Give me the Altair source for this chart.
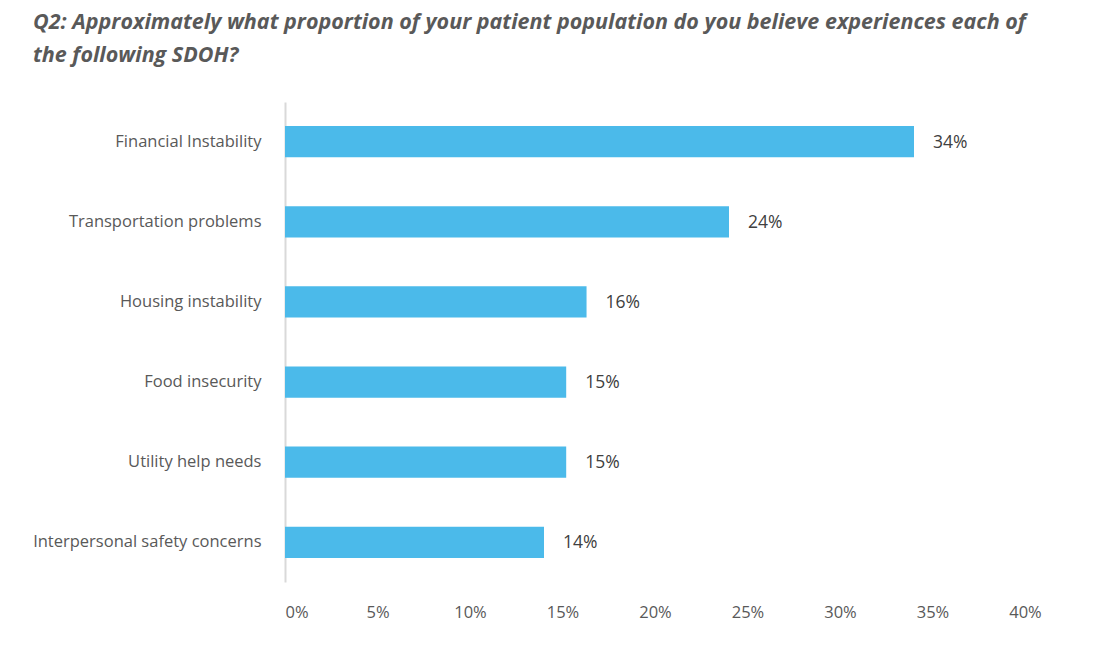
import altair as alt
import pandas as pd

categories = ["Financial Instability", "Transportation problems", "Housing instability",
              "Food insecurity", "Utility help needs", "Interpersonal safety concerns"]
values = [0.34, 0.24, 0.163, 0.152, 0.152, 0.14]
labels = ["34%", "24%", "16%", "15%", "15%", "14%"]

df = pd.DataFrame({"cat": categories, "val": values, "lab": labels})

FONT = "Open Sans"
GRAY = "#595959"

base = alt.Chart(df).encode(
    y=alt.Y("cat:N", sort=categories, title=None,
            scale=alt.Scale(paddingInner=0.61, paddingOuter=0.3),
            axis=alt.Axis(labelFont=FONT, labelFontSize=16.5, labelColor=GRAY,
                          labelPadding=24, ticks=False, domainColor="#D9D9D9",
                          domainWidth=2, labelLimit=300))
)

bars = base.mark_bar(color="#4BBAEA").encode(
    x=alt.X("val:Q", title=None,
            scale=alt.Scale(domain=[0, 0.4], nice=False),
            axis=alt.Axis(format="%", values=[0, 0.05, 0.1, 0.15, 0.2, 0.25, 0.3, 0.35, 0.4],
                          grid=False, domain=False, ticks=False, labelFont=FONT,
                          labelFontSize=16.5, labelColor=GRAY, labelPadding=22,
                          labelAlign={"condition": {"test": "datum.value == 0", "value": "left"},
                                      "value": "center"}))
)

text = base.mark_text(align="left", dx=19, dy=1, font=FONT, fontSize=17.5, color="#404040").encode(
    x="val:Q", text="lab:N"
)

chart = (bars + text).properties(
    width=740, height=480,
    padding={"left": 285, "top": 102, "right": 84, "bottom": 66},
    autosize=alt.AutoSizeParams(type="none"),
    title=alt.TitleParams(
        ["Q2: Approximately what proportion of your patient population do you believe experiences each of",
         "the following SDOH?"],
        anchor="start", frame="group", dx=-252, offset=36,
        font=FONT, fontSize=21.5, fontWeight="bold", fontStyle="italic",
        color=GRAY, lineHeight=33),
).configure_view(stroke=None)

chart.save("out.html", embed_options={"renderer": "svg", "actions": False})
